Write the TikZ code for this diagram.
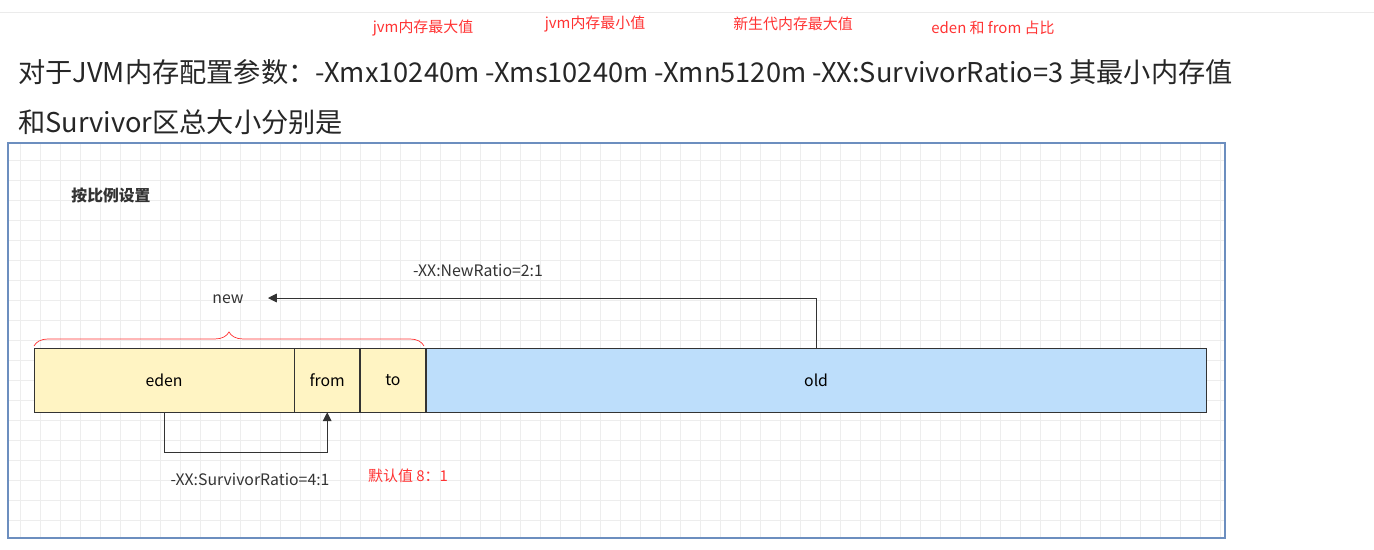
\documentclass[tikz,border=0pt]{standalone}
\usepackage{fontspec}
\setmainfont{Noto Sans CJK SC}
\usetikzlibrary{positioning,decorations.pathreplacing,arrows.meta}
\definecolor{notered}{HTML}{FF3333}
\definecolor{frameblue}{HTML}{6C8EBF}
\definecolor{edenyellow}{HTML}{FFF4C3}
\definecolor{oldblue}{HTML}{BDDEFB}
\begin{document}
\begin{tikzpicture}[x=0.02cm, y=-0.02cm,
    redtext/.style = {text=notered, font=\fontsize{8.5}{10}\selectfont},
    big/.style = {anchor=west, font=\fontsize{15.5}{18}\selectfont, text=black!85},
    area/.style = {draw=black!80, minimum height=64*0.02cm, inner sep=0pt, font=\fontsize{9}{11}\selectfont},
    lbl/.style = {font=\fontsize{9}{11}\selectfont, text=black!80},
    link/.style = {draw=black!80, -{Triangle[length=5pt,width=5pt]}}]
    \useasboundingbox (0,0) rectangle (1374,549);
    \draw[black!8] (0,12) -- (1374,12);
    % header labels
    \node[redtext] (maxmem) at (423,28) {jvm内存最大值};
    \node[redtext] (minmem) at (595,24) {jvm内存最小值};
    \node[redtext] (newmax) at (793,24) {新生代内存最大值};
    \node[redtext] (ratio) at (993,28) {eden 和 from 占比};
    \node[big] (line1) at (12,72) {对于JVM内存配置参数：-Xmx10240m -Xms10240m -Xmn5120m -XX:SurvivorRatio=3 其最小内存值};
    \node[big] (line2) at (12,122) {和Survivor区总大小分别是};
    % canvas
    \begin{scope}
        \clip (8,143) rectangle (1225,538);
        \draw[black!7, step=20*0.02cm] (8,143) grid (1225,538);
    \end{scope}
    \draw[frameblue, thick] (8,143) rectangle (1225,538);
    \node[font=\bfseries\fontsize{9}{11}\selectfont, text=black!80] (title) at (111,195) {按比例设置};
    % memory areas
    \node[area, fill=edenyellow, minimum width=260*0.02cm] (eden) at (164,380) {eden};
    \node[area, fill=edenyellow, minimum width=65*0.02cm, right=0pt of eden] (from) {from};
    \node[area, fill=edenyellow, minimum width=65*0.02cm, right=0pt of from] (to) {to};
    \node[area, fill=oldblue, minimum width=780*0.02cm, right=0pt of to] (old) {old};
    \draw[notered, decorate, decoration={brace, amplitude=8pt}] (34,346) -- (424,346);
    \node[lbl] (new) at (228,299) {new};
    \coordinate (newtip) at (268,298);
    \draw[link] (old.north) |- (newtip);
    \node[lbl] (newratio) at (478,270) {-XX:NewRatio=2:1};
    \coordinate (bend) at (164,452);
    \draw[link] (eden.south) -- (bend) -| (from.south);
    \node[lbl] (survratio) at (250,479) {-XX:SurvivorRatio=4:1};
    \node[redtext] (default) at (408,476) {默认值 8：1};
\end{tikzpicture}
\end{document}
